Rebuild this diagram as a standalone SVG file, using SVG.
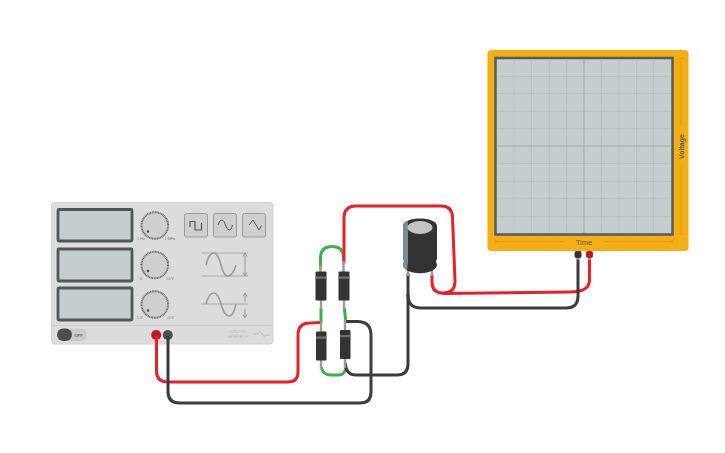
<svg xmlns="http://www.w3.org/2000/svg" width="725" height="453" viewBox="0 0 725 453">
<style>
text{font-family:"Liberation Sans",Arial,sans-serif}
.screen{fill:#c5cdcf;stroke:#525656;stroke-width:2.800}
.knob{fill:#cfcfcf;stroke:#666;stroke-width:2;stroke-dasharray:1 .6}
.btn{fill:#cfcfcf;stroke:#9a9a9a;stroke-width:1}
.wave{fill:none;stroke:#9a9a9a;stroke-width:1.600}
.g{fill:none;stroke:#b6bec0;stroke-width:.8}
.G{fill:none;stroke:#a2abad;stroke-width:1.100}
.w{fill:none;stroke-width:3;stroke-linecap:round;stroke-linejoin:round}
.red{stroke:#e3222a}.blk{stroke:#3a3c3e}.grn{stroke:#3ab14a}
.lead{stroke:#9a9a9a;stroke-width:2.400;fill:none}
.body{fill:#333}.band{fill:#6c7478}
.kl{font-size:3.800px;fill:#777}
.oa{fill:none;stroke:#dd9f10;stroke-width:1}
</style>
<g id="function-generator">
<rect x="51.500" y="202.500" width="221.500" height="141.500" rx="3" fill="#dcdcdc" stroke="#d2d2d2"/>
<path d="M52 325.500H273" stroke="#d0d0d0"/>
<rect class="screen" x="58" y="209.500" width="74" height="31.500" rx="1"/>
<rect class="screen" x="58" y="249" width="74" height="32" rx="1"/>
<rect class="screen" x="58" y="288" width="74" height="32" rx="1"/>
<g class="knob"><circle cx="154.800" cy="225.500" r="13.300"/><circle cx="154.800" cy="265" r="13.300"/><circle cx="154.800" cy="304.500" r="13.300"/></g>
<g fill="#444"><circle cx="148" cy="231.500" r="1.200"/><circle cx="148" cy="271" r="1.200"/><circle cx="148" cy="310.500" r="1.200"/></g>
<text class="kl" x="141" y="239.500" text-anchor="middle">1 Hz</text>
<text class="kl" x="170" y="239.500" text-anchor="middle">1 MHz</text>
<text class="kl" x="141" y="279.500" text-anchor="middle">0</text>
<text class="kl" x="170" y="279.500" text-anchor="middle">10 V</text>
<text class="kl" x="139" y="319" text-anchor="middle">-5 V</text>
<text class="kl" x="170" y="319" text-anchor="middle">+5 V</text>
<rect class="btn" x="184.500" y="213.500" width="23" height="23.500" rx="2"/>
<rect class="btn" x="213.500" y="213.500" width="23" height="23.500" rx="2"/>
<rect class="btn" x="242.500" y="213.500" width="23" height="23.500" rx="2"/>
<path d="M190 227V221.500H195V230H201.500V223" fill="none" stroke="#555" stroke-width="1.200"/>
<path d="M218 225Q219.500 220 221.800 220T225.500 225T229.300 230T232.500 225" fill="none" stroke="#555" stroke-width="1"/>
<path d="M249 225L253 220L259 230L261.500 225.500" fill="none" stroke="#555" stroke-width="1"/>
<path d="M201 253H248M201 276H248" stroke="#aaa" fill="none"/>
<path class="wave" d="M206 265Q209 253 213.500 253T221 265T228.500 276T236 265"/>
<path d="M245 254V275M243 256.500L245 253L247 256.500M243 272.500L245 276L247 272.500" stroke="#999" fill="none"/>
<path d="M201 304H248" stroke="#aaa" fill="none"/>
<path class="wave" d="M206 304Q209 293 213.500 293T221 304T228.500 316T236 304"/>
<path d="M245 294V302M245 309V317M243 296.500L245 293L247 296.500M243 314.500L245 318L247 314.500" stroke="#999" fill="none"/>
<rect x="57" y="328.500" width="30" height="12.500" rx="6.200" fill="#cbcbcb"/>
<rect x="57" y="328.500" width="15" height="12.500" rx="6.200" fill="#4a4e4e"/>
<text x="78.500" y="336.800" font-size="4.200" font-weight="bold" text-anchor="middle" fill="#666">OFF</text>
<text x="238" y="333" font-size="3.300" text-anchor="middle" fill="#b5b5b5">FUNCTION</text>
<text x="238" y="338" font-size="3.300" text-anchor="middle" fill="#b5b5b5">GENERATOR</text>
<path d="M253 334H258Q260 330 262 334T266 335H270" fill="none" stroke="#bdbdbd"/>
<circle cx="156.200" cy="335" r="5" fill="#b81c22"/>
<circle cx="167.800" cy="335" r="5" fill="#4b5052"/>
</g>
<g id="connectors">
<path class="w red" d="M156.500 337V371Q156.500 382 168 382H288Q298 382 298 372V335Q298 323 310 323L321 322.500"/>
<path class="w blk" d="M168 337V392Q168 403 180 403H360Q371 403 371 392V335Q371 321.500 357 321.500H346"/>
<path class="w grn" d="M320.500 268V258Q320.500 246.500 332 246.500Q343.500 246.500 343.500 258V262"/>
<path class="w grn" d="M321 309V321M344.500 309L345.500 319"/>
<path class="w grn" d="M321.500 368Q323 375 331 375H339Q344 375 345.500 369"/>
<path class="w red" d="M344 262V218Q344 206 356 206H441Q452 206 452.500 217L455 281Q455 293 443 293Q432 293 432 282V275"/>
<path class="w red" d="M443 293.500L570 292Q589.500 292 589.500 280V259"/>
<path class="w blk" d="M345.500 364Q346 375 356 375H397Q408 375 408 364V274"/>
<path class="w blk" d="M408 295Q408 308 421 308H566Q578 308 578 296V259"/>
</g>
<g id="diode-1"><path class="lead" d="M320.500 265V274M321 298V309"/><rect class="body" x="315.500" y="271.500" width="11" height="29" rx="1"/><rect class="band" x="315.500" y="276.500" width="11" height="2.200"/></g>
<g id="diode-2"><path class="lead" d="M343.500 261V274M344 298V309"/><rect class="body" x="338.500" y="271.500" width="11" height="29" rx="1"/><rect class="band" x="338.500" y="276.500" width="11" height="2.200"/></g>
<g id="diode-3"><path class="lead" d="M321 322V334M321 358V369"/><rect class="body" x="316" y="331.500" width="10.500" height="29" rx="1"/><rect class="band" x="316" y="336.500" width="10.500" height="2.200"/></g>
<g id="diode-4"><path class="lead" d="M345 320V332M345 356V368"/><rect class="body" x="340" y="330" width="10.500" height="29" rx="1"/><rect class="band" x="340" y="335" width="10.500" height="2.200"/></g>
<g id="capacitor">
<path class="lead" d="M408 268V276M432 268V276"/>
<path class="body" d="M403 226C403 216 437 216 437 226V257Q437.500 259 436 261L437 265C435 276 405 276 403 265L404 261Q403 259 403 257Z"/>
<path fill="#7d8a92" d="M403 226Q403 222 408 221V262L407 270Q403 268 403 265L404 261Q403 259 403 257Z"/>
<ellipse cx="420" cy="227.500" rx="12.500" ry="6.500" fill="#c2c4c4"/>
</g>
<g id="oscilloscope">
<rect x="487.500" y="50" width="201" height="201" rx="4" fill="#f2ae14"/>
<rect x="495.500" y="58" width="177" height="176.500" fill="#c5cdcf" stroke="#565a5a" stroke-width="2.500"/>
<path class="g" d="M514 59V233M531.500 59V233M549.500 59V233M566.500 59V233M601.500 59V233M619 59V233M636.500 59V233M653.500 59V233M497 76.500H671M497 93.500H671M497 111.500H671M497 128.500H671M497 163.500H671M497 181.500H671M497 198.500H671M497 216.500H671"/>
<path class="G" d="M584 59V233M497 146H671"/>
<path class="oa" d="M681 58V126M681 167V234M678.500 58H683.500M678.500 234H683.500M496 241.500H564M604 241.500H672M496 239.500V243.500M672 239.500V243.500"/>
<text x="584" y="245" font-size="7.500" text-anchor="middle" fill="#5c5a4c">Time</text>
<text transform="translate(683.500 146.500) rotate(-90)" font-size="7" font-weight="bold" text-anchor="middle" fill="#5c5a4c">Voltage</text>
<path class="lead" d="M578 255V260M589.500 255V260"/>
<rect x="574.500" y="251" width="7" height="7" rx="2" fill="#333"/>
<rect x="586" y="251" width="7" height="7" rx="2" fill="#b81c22"/>
</g>
</svg>
